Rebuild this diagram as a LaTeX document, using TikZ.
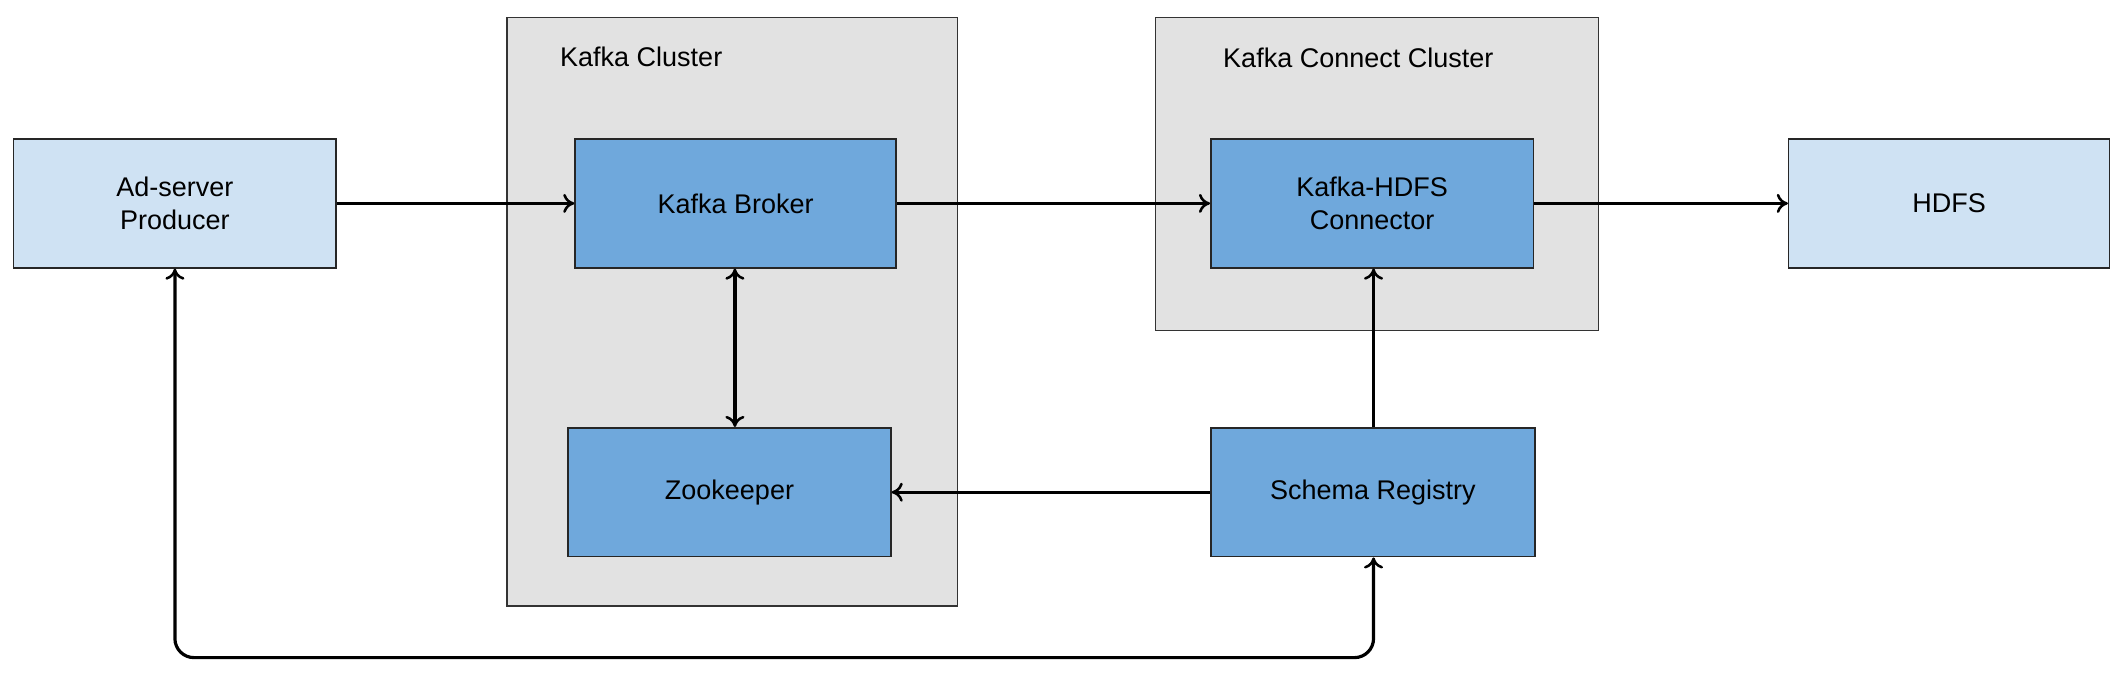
\documentclass[tikz,border=0pt]{standalone}
\usepackage{fontspec}
\setmainfont{Liberation Sans}
\usetikzlibrary{arrows.meta}
\definecolor{lb}{HTML}{CFE2F3}
\definecolor{mb}{HTML}{6FA8DC}
\definecolor{gr}{HTML}{E2E2E2}
\begin{document}
\begin{tikzpicture}[x=0.03cm,y=-0.03cm,
  cl/.style={draw=black!80,fill=gr,line width=0.8pt},
  bx/.style={draw=black!85,line width=1pt,minimum width=7.1cm,minimum height=2.85cm,align=center,font=\fontsize{17}{21}\selectfont,inner sep=0},
  lbx/.style={bx,fill=lb},
  mbx/.style={bx,fill=mb},
  ar/.style={line width=2pt,-{To[length=7pt,width=12pt,line width=1.6pt]}},
  dar/.style={line width=2pt,{To[length=7pt,width=12pt,line width=1.6pt]}-{To[length=7pt,width=12pt,line width=1.6pt]}}]
\useasboundingbox (0,0) rectangle (1565,502);
\draw[cl] (374,13) rectangle (706,447);
\draw[cl] (852,13) rectangle (1179,244);
\node[anchor=west,font=\fontsize{17}{21}\selectfont] (l1) at (409,42) {Kafka Cluster};
\node[anchor=west,font=\fontsize{17}{21}\selectfont] (l2) at (898,43) {Kafka Connect Cluster};
\node[lbx,minimum width=7.14cm] (ad) at (129,150) {Ad-server\\Producer};
\node[mbx] (kb) at (542.5,150) {Kafka Broker};
\node[mbx,minimum width=7.14cm] (zk) at (538,363) {Zookeeper};
\node[mbx,minimum width=7.14cm] (kc) at (1012,150) {Kafka-HDFS\\Connector};
\node[mbx,minimum width=7.17cm] (sr) at (1012.5,363) {Schema Registry};
\node[lbx] (hd) at (1437.5,150) {HDFS};
\draw[ar] (ad) -- (kb);
\draw[ar] (kb) -- (kc);
\draw[ar] (kc) -- (hd);
\draw[dar] (kb.south -| 542,0) -- (zk.north -| 542,0);
\draw[ar] (sr.north -| 1013,0) -- (kc.south -| 1013,0);
\draw[ar] (sr) -- (zk);
\draw[dar,rounded corners=12pt] (ad.south) -- (129,485) -- (1013,485) -- (sr.south -| 1013,0);
\end{tikzpicture}
\end{document}
